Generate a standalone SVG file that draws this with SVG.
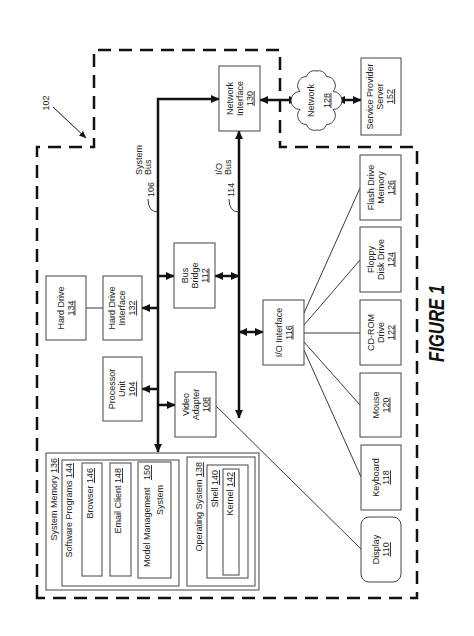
<svg xmlns="http://www.w3.org/2000/svg" width="474" height="636" viewBox="0 0 474 636">
<defs>
<style>
text{font-family:"Liberation Sans",Arial,sans-serif;font-size:9px;fill:#222}
.c{text-anchor:middle}
.s{text-anchor:start}
.e{text-anchor:end}
.u{text-decoration:underline}
.box{fill:#fff;stroke:#444;stroke-width:1}
.bus{fill:none;stroke:#111;stroke-width:2.5}
.thin{fill:none;stroke:#222;stroke-width:0.9}
.dash{fill:none;stroke:#111;stroke-width:2.5;stroke-dasharray:13 8}
.fig{font-size:22px;font-weight:bold;font-style:italic;fill:#111}
</style>
<marker id="ah" markerUnits="userSpaceOnUse" markerWidth="9" markerHeight="9" refX="8" refY="4.5" orient="auto-start-reverse" viewBox="0 0 9 9">
<path d="M0,0.5 L8.5,4.5 L0,8.5 Z" fill="#111"/>
</marker>
<marker id="ahs" markerUnits="userSpaceOnUse" markerWidth="8" markerHeight="8" refX="7" refY="4" orient="auto" viewBox="0 0 8 8">
<path d="M0,1 L7.5,4 L0,7 Z" fill="#111"/>
</marker>
</defs>

<g id="border">
<path class="dash" d="M37,598 L37,147 L94,147 L94,50 L280,50 L280,147 L417,147 L417,598 Z"/>
</g>

<g id="label102">
<text class="c" transform="translate(49,103) rotate(-90)">102</text>
<line x1="53" y1="107" x2="86" y2="138" stroke="#111" stroke-width="1" marker-end="url(#ahs)"/>
</g>

<g id="connectors">
<path class="bus" d="M158,452 L158,99 L219,99" marker-start="url(#ah)" marker-end="url(#ah)"/>
<path class="bus" d="M239,131 L239,418" marker-start="url(#ah)" marker-end="url(#ah)"/>
<path class="bus" d="M158,308 L142,308" marker-end="url(#ah)"/>
<path class="bus" d="M158,276 L174,276" marker-end="url(#ah)"/>
<path class="bus" d="M215,276 L239,276" marker-start="url(#ah)" marker-end="url(#ah)"/>
<path class="bus" d="M158,389 L142,389" marker-end="url(#ah)"/>
<path class="bus" d="M158,405 L175,405" marker-end="url(#ah)"/>
<path class="bus" d="M239,332 L263,332" marker-start="url(#ah)" marker-end="url(#ah)"/>
<path class="bus" d="M260,100 L297,100" marker-start="url(#ah)" marker-end="url(#ah)"/>
<path class="bus" d="M337,100 L361,100" marker-start="url(#ah)" marker-end="url(#ah)"/>
<path class="thin" d="M86,308 L103,308"/>
<path class="thin" d="M304,313 L360,188"/>
<path class="thin" d="M304,325 L360,260"/>
<path class="thin" d="M304,333 L360,333"/>
<path class="thin" d="M304,342 L360,405"/>
<path class="thin" d="M304,350 L361,477"/>
<path class="thin" d="M216,406 L361,549"/>
<path class="thin" d="M148,199 Q148,212 158,212"/>
<path class="thin" d="M229,199 Q229,212 239,212"/>
<text class="s" transform="translate(142,175) rotate(-90)">System</text>
<text class="s" transform="translate(151,175) rotate(-90)">Bus</text>
<text class="s" transform="translate(154,197) rotate(-90)">106</text>
<text class="s" transform="translate(222,175) rotate(-90)">I/O</text>
<text class="s" transform="translate(231,175) rotate(-90)">Bus</text>
<text class="s" transform="translate(234,197) rotate(-90)">114</text>
</g>

<g id="network-interface">
<rect class="box" x="219" y="66" width="41" height="65"/>
<text class="c" transform="translate(239.5,98.5) rotate(-90)"><tspan x="0" y="-6.8">Network</tspan><tspan x="0" y="3.2">Interface</tspan><tspan x="0" y="13.2" class="u">130</tspan></text>
</g>

<g id="network">
<path class="box" d="M316.5,71 A8,8 0 0 1 326.5,76.5 A9,9 0 0 1 333,91.5 A9,9 0 0 1 333,109.5 A9,9 0 0 1 326.5,124.5 A8,8 0 0 1 316.5,130 A8,8 0 0 1 306.5,124.5 A9,9 0 0 1 300,109.5 A9,9 0 0 1 300,91.5 A9,9 0 0 1 306.5,76.5 A8,8 0 0 1 316.5,71 Z"/>
<text class="c" transform="translate(316.5,100.5) rotate(-90)"><tspan x="0" y="-2.5">Network</tspan><tspan x="0" y="13" class="u">128</tspan></text>
</g>

<g id="service-provider-server">
<rect class="box" x="361" y="58" width="40" height="77"/>
<text class="c" transform="translate(381,96.5) rotate(-90)"><tspan x="0" y="-7.8">Service Provider</tspan><tspan x="0" y="2.2">Server</tspan><tspan x="0" y="12.2" class="u">152</tspan></text>
</g>

<g id="hard-drive">
<rect class="box" x="46" y="276" width="40" height="64"/>
<text class="c" transform="translate(66,308) rotate(-90)"><tspan x="0" y="-2.5">Hard Drive</tspan><tspan x="0" y="7.5" class="u">134</tspan></text>
</g>

<g id="hard-drive-interface">
<rect class="box" x="103" y="276" width="39" height="64"/>
<text class="c" transform="translate(122.5,308) rotate(-90)"><tspan x="0" y="-7.3">Hard Drive</tspan><tspan x="0" y="2.7">Interface</tspan><tspan x="0" y="12.7" class="u">132</tspan></text>
</g>

<g id="bus-bridge">
<rect class="box" x="174" y="243" width="41" height="65"/>
<text class="c" transform="translate(194.5,275.5) rotate(-90)"><tspan x="0" y="-7">Bus</tspan><tspan x="0" y="3">Bridge</tspan><tspan x="0" y="13" class="u">112</tspan></text>
</g>

<g id="processor-unit">
<rect class="box" x="103" y="357" width="39" height="64"/>
<text class="c" transform="translate(122.5,389) rotate(-90)"><tspan x="0" y="-7.3">Processor</tspan><tspan x="0" y="2.7">Unit</tspan><tspan x="0" y="12.7" class="u">104</tspan></text>
</g>

<g id="video-adapter">
<rect class="box" x="175" y="372" width="41" height="65"/>
<text class="c" transform="translate(195.5,404.5) rotate(-90)"><tspan x="0" y="-7">Video</tspan><tspan x="0" y="3">Adapter</tspan><tspan x="0" y="13" class="u">108</tspan></text>
</g>

<g id="io-interface">
<rect class="box" x="263" y="300" width="41" height="65"/>
<text class="c" transform="translate(283.5,332.5) rotate(-90)"><tspan x="0" y="-2">I/O Interface</tspan><tspan x="0" y="8" class="u">116</tspan></text>
</g>

<g id="flash-drive-memory">
<rect class="box" x="360" y="155" width="41" height="65"/>
<text class="c" transform="translate(380.5,187.5) rotate(-90)"><tspan x="0" y="-7">Flash Drive</tspan><tspan x="0" y="3">Memory</tspan><tspan x="0" y="13" class="u">126</tspan></text>
</g>

<g id="floppy-disk-drive">
<rect class="box" x="360" y="227" width="41" height="65"/>
<text class="c" transform="translate(380.5,259.5) rotate(-90)"><tspan x="0" y="-7">Floppy</tspan><tspan x="0" y="3">Disk Drive</tspan><tspan x="0" y="13" class="u">124</tspan></text>
</g>

<g id="cd-rom-drive">
<rect class="box" x="360" y="300" width="41" height="65"/>
<text class="c" transform="translate(380.5,332.5) rotate(-90)"><tspan x="0" y="-7">CD-ROM</tspan><tspan x="0" y="3">Drive</tspan><tspan x="0" y="13" class="u">122</tspan></text>
</g>

<g id="mouse">
<rect class="box" x="360" y="373" width="41" height="64"/>
<text class="c" transform="translate(380.5,405) rotate(-90)"><tspan x="0" y="-2">Mouse</tspan><tspan x="0" y="8" class="u">120</tspan></text>
</g>

<g id="keyboard">
<rect class="box" x="361" y="445" width="40" height="65"/>
<text class="c" transform="translate(381,477.5) rotate(-90)"><tspan x="0" y="-2">Keyboard</tspan><tspan x="0" y="8" class="u">118</tspan></text>
</g>

<g id="display">
<rect class="box" x="361" y="517" width="40" height="65" rx="8" ry="8"/>
<text class="c" transform="translate(381,549.5) rotate(-90)"><tspan x="0" y="-2">Display</tspan><tspan x="0" y="8" class="u">110</tspan></text>
</g>

<g id="system-memory">
<rect class="box" x="46" y="453" width="213" height="137"/>
<text class="e" transform="translate(57,458) rotate(-90)">System Memory  <tspan class="u">136</tspan></text>
</g>

<g id="software-programs">
<rect class="box" x="62" y="460" width="117" height="126"/>
<text class="e" transform="translate(72,463) rotate(-90)">Software Programs  <tspan class="u">144</tspan></text>
</g>

<g id="browser">
<rect class="box" x="82" y="463" width="20" height="113"/>
<text class="e" transform="translate(93,468) rotate(-90)">Browser  <tspan class="u">146</tspan></text>
</g>

<g id="email-client">
<rect class="box" x="110" y="463" width="21" height="113"/>
<text class="e" transform="translate(121,468) rotate(-90)">Email Client  <tspan class="u">148</tspan></text>
</g>

<g id="model-management-system">
<rect class="box" x="138" y="462" width="33" height="116"/>
<text class="s" transform="translate(150,567) rotate(-90)">Model Management</text>
<text class="s" transform="translate(163,515) rotate(-90)">System</text>
<text class="e u" transform="translate(150,465) rotate(-90)">150</text>
</g>

<g id="operating-system">
<rect class="box" x="187" y="457" width="68" height="129"/>
<text class="e" transform="translate(202,462) rotate(-90)">Operating System  <tspan class="u">138</tspan></text>
</g>

<g id="shell">
<rect class="box" x="207" y="465" width="41" height="113"/>
<text class="e" transform="translate(218,470) rotate(-90)">Shell  <tspan class="u">140</tspan></text>
</g>

<g id="kernel">
<rect class="box" x="223" y="469" width="16" height="106"/>
<text class="e" transform="translate(233,472) rotate(-90)">Kernel  <tspan class="u">142</tspan></text>
</g>

<g id="figure-title">
<text class="fig s" transform="translate(444,362) rotate(-90)" textLength="77" lengthAdjust="spacingAndGlyphs">FIGURE 1</text>
</g>
</svg>
